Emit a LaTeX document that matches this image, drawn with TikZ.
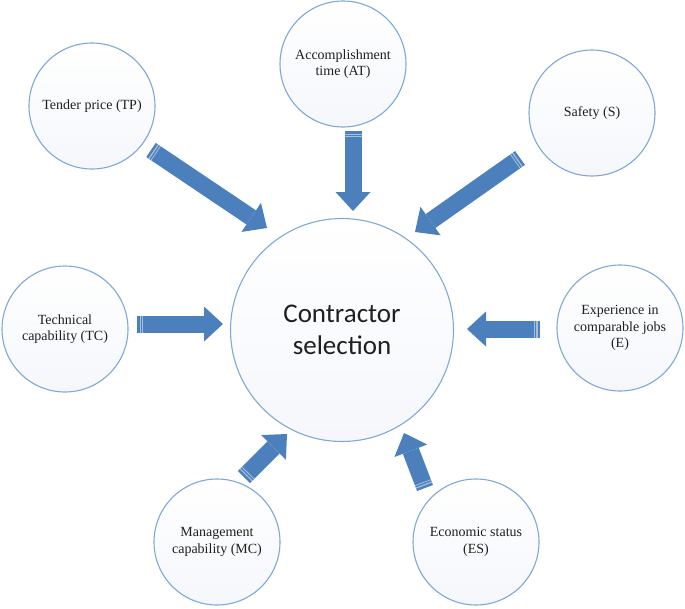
\documentclass[tikz,border=0pt]{standalone}
\usepackage{fontspec}
\setmainfont{Liberation Serif}
\newfontfamily\factorfont{Liberation Serif}
\newfontfamily\centralfont{Carlito}
\usetikzlibrary{arrows.meta}
\definecolor{ringblue}{RGB}{128,168,214}
\definecolor{arrowblue}{RGB}{76,128,188}
\definecolor{fillblue}{RGB}{245,247,252}
\begin{document}
\begin{tikzpicture}[x=1pt,y=-1pt,
  factor/.style={circle, draw=ringblue, line width=1.1pt, minimum size=126pt, inner sep=0pt,
    top color=white, bottom color=fillblue, align=center,
    font=\factorfont\fontsize{14}{16.5}\selectfont, text=black!88},
  central/.style={factor, minimum size=223pt, font=\centralfont\fontsize{27}{32}\selectfont},
  blockarrow/.style={draw=arrowblue, line width=17pt,
    -{Triangle[width=35pt, length=19pt, line width=0pt, fill=arrowblue]},
    postaction={draw=white, -, draw opacity=.5,
      dash pattern=on 0pt off 2.5pt on 1.2pt off 1.6pt on 0.8pt off 2000pt}}
]
\useasboundingbox (0,0) rectangle (685,608);

% nodes
\node[central] (cs) at (342,330) {Contractor\\selection};
\node[factor] (tp) at (92,106) {Tender price (TP)};
\node[factor] (at) at (343,64) {Accomplishment\\time (AT)};
\node[factor] (s)  at (592,113) {Safety (S)};
\node[factor] (tc) at (65,329) {Technical\\capability (TC)};
\node[factor] (e)  at (620,328) {Experience in\\comparable jobs\\(E)};
\node[factor] (mc) at (217,542) {Management\\capability (MC)};
\node[factor] (es) at (476,542) {Economic status\\(ES)};

% arrow end points
\coordinate (tp-a) at (151,150); \coordinate (tp-b) at (267,228);
\coordinate (at-a) at (353,131); \coordinate (at-b) at (353,211);
\coordinate (s-a)  at (520,158); \coordinate (s-b)  at (415,232);
\coordinate (tc-a) at (137,324); \coordinate (tc-b) at (223,324);
\coordinate (e-a)  at (540,329); \coordinate (e-b)  at (467,329);
\coordinate (mc-a) at (244,477); \coordinate (mc-b) at (287,434);
\coordinate (es-a) at (425,488); \coordinate (es-b) at (404,433);

\draw[blockarrow] (tp-a) -- (tp-b);
\draw[blockarrow] (at-a) -- (at-b);
\draw[blockarrow] (s-a) -- (s-b);
\draw[blockarrow] (tc-a) -- (tc-b);
\draw[blockarrow] (e-a) -- (e-b);
\draw[blockarrow] (mc-a) -- (mc-b);
\draw[blockarrow] (es-a) -- (es-b);
\end{tikzpicture}
\end{document}
